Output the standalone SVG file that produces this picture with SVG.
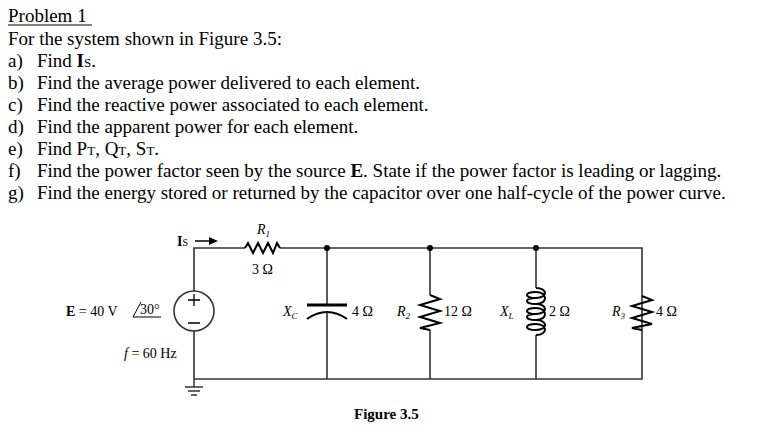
<svg xmlns="http://www.w3.org/2000/svg" width="762" height="440" viewBox="0 0 762 440">
<style>
text{font-family:"Liberation Serif","Times New Roman","DejaVu Serif",serif}
.t{font-size:19px;fill:#000}
.s{font-size:14px;fill:#000}
.w{fill:none;stroke:#333;stroke-width:1.6}
.e{fill:none;stroke:#000;stroke-width:2}
</style>
<rect width="762" height="440" fill="#fff"/>
<g id="text">
<text class="t" x="8" y="22">Problem 1</text>
<line x1="8" y1="25" x2="92" y2="25" stroke="#000" stroke-width="1"/>
<text class="t" x="8" y="45">For the system shown in Figure 3.5:</text>
<text class="t" x="8" y="67">a)</text><text class="t" x="37" y="67">Find <tspan font-weight="bold">I</tspan><tspan font-size="13">S</tspan>.</text>
<text class="t" x="8" y="89">b)</text><text class="t" x="37" y="89">Find the average power delivered to each element.</text>
<text class="t" x="8" y="111">c)</text><text class="t" x="37" y="111">Find the reactive power associated to each element.</text>
<text class="t" x="8" y="133">d)</text><text class="t" x="37" y="133">Find the apparent power for each element.</text>
<text class="t" x="8" y="155">e)</text><text class="t" x="37" y="155">Find P<tspan font-size="13">T</tspan>, Q<tspan font-size="13">T</tspan>, S<tspan font-size="13">T</tspan>.</text>
<text class="t" x="8" y="177">f)</text><text class="t" x="37" y="177">Find the power factor seen by the source <tspan font-weight="bold">E</tspan>. State if the power factor is leading or lagging.</text>
<text class="t" x="8" y="199">g)</text><text class="t" x="37" y="199">Find the energy stored or returned by the capacitor over one half-cycle of the power curve.</text>
</g>
<g id="connectors">
<path class="w" d="M194 291V248H245M280 248H642V379H194V331"/>
<path class="w" d="M327 248V305M327 312V379"/>
<path class="w" d="M430 248V295M430 330V379"/>
<path class="w" d="M536 248V288M536 335V379"/>
<circle cx="327" cy="248" r="3"/><circle cx="430" cy="248" r="3"/><circle cx="536" cy="248" r="3"/>
</g>
<g id="source">
<circle class="w" cx="194" cy="311" r="20"/>
<path d="M188 300H200M194 294V306M188 323H200" stroke="#000" stroke-width="1.3"/>
<text class="s" x="66" y="316"><tspan font-weight="bold">E</tspan> = 40 V</text>
<text class="s" x="140" y="314">30°</text>
<path d="M133 317L141 302M133 317H161" fill="none" stroke="#000" stroke-width="1"/>
<text class="s" x="124" y="358" font-size="13"><tspan font-style="italic">f</tspan> = 60 Hz</text>
</g>
<g id="ground"><path d="M194 379V387M185 387H203M188 391H200M191 395H197" stroke="#333" stroke-width="1.5"/></g>
<g id="is">
<text class="s" x="177" y="246"><tspan font-weight="bold">I</tspan><tspan font-size="10">S</tspan></text>
<path d="M195 241H210" stroke="#000" stroke-width="1.5"/><path d="M218 241L209 237V245Z"/>
</g>
<g id="R1">
<path class="e" d="M245 248L248 243L253 253L258 243L263 253L268 243L273 253L277 243L280 248"/>
<text class="s" x="257" y="234" font-style="italic">R<tspan font-size="9" dy="3">1</tspan></text>
<text class="s" x="252" y="274">3 Ω</text>
</g>
<g id="C">
<path d="M307 305H347" stroke="#000" stroke-width="3"/>
<path class="e" d="M307 319Q327 305 347 319"/>
<text class="s" x="283" y="316" font-style="italic">X<tspan font-size="9" dy="3">C</tspan></text>
<text class="s" x="352" y="316">4 Ω</text>
</g>
<g id="R2">
<path class="e" d="M430 295L440 299L420 305L440 311L420 317L440 323L420 328L430 330"/>
<text class="s" x="397" y="316" font-style="italic">R<tspan font-size="9" dy="3">2</tspan></text>
<text class="s" x="444" y="316">12 Ω</text>
</g>
<g id="L">
<path class="e" d="M536 288C548 288 548 298 536 298C524 298 524 292 536 292C548 292 548 304 536 304C524 304 524 298 536 298M536 304C548 304 548 314 536 314C524 314 524 308 536 308C548 308 548 320 536 320C524 320 524 314 536 314M536 320C548 320 548 330 536 330C524 330 524 324 536 324C548 324 548 335 536 335"/>
<text class="s" x="500" y="316" font-style="italic">X<tspan font-size="9" dy="3">L</tspan></text>
<text class="s" x="549" y="316">2 Ω</text>
</g>
<g id="R3">
<path class="e" d="M642 296L652 300L632 306L652 312L632 318L652 324L632 328L642 330"/>
<text class="s" x="612" y="316" font-style="italic">R<tspan font-size="9" dy="3">3</tspan></text>
<text class="s" x="656" y="316">4 Ω</text>
</g>
<text x="354" y="419" font-size="15" font-weight="bold">Figure 3.5</text>
</svg>
